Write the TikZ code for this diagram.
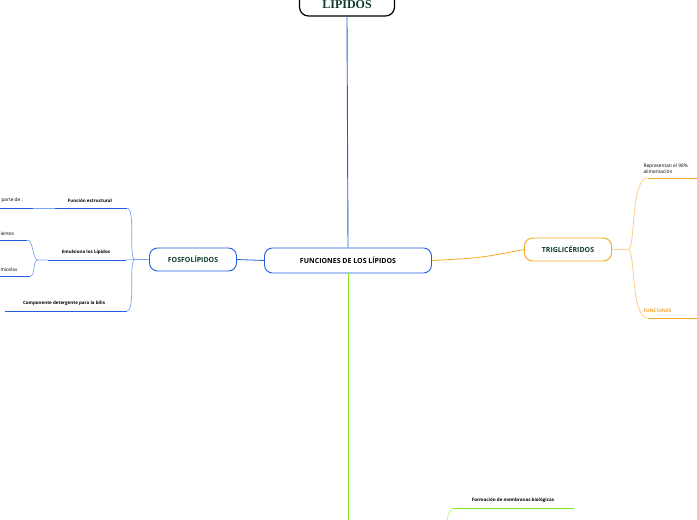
\documentclass[tikz,border=0pt]{standalone}
\usepackage{fontspec}
\setmainfont{Open Sans}
\newfontfamily\serifb{Liberation Serif}
\definecolor{bl}{HTML}{1F5FE0}
\definecolor{lb}{HTML}{7FA3F5}
\definecolor{og}{HTML}{F5A623}
\definecolor{lo}{HTML}{FAD08A}
\definecolor{gr}{HTML}{7FEA1A}
\definecolor{dg}{HTML}{0F3B2A}
\begin{document}
\begin{tikzpicture}[x=1pt,y=-1pt,
  box/.style={draw,rounded corners=8pt,line width=0.9pt,minimum height=23pt,font=\bfseries\fontsize{7}{8}\selectfont},
  lab/.style={font=\bfseries\fontsize{4.5}{5}\selectfont,anchor=south},
  sm/.style={font=\fontsize{4.8}{6}\selectfont,anchor=south west,align=left}]
\useasboundingbox (0,0) rectangle (697,520);
\begin{scope}
\clip (0,0) rectangle (697,520);
\node[box,draw=black,line width=1.2pt,minimum width=95pt,minimum height=26pt,font=\serifb\bfseries\fontsize{12}{12}\selectfont,text=dg,rounded corners=9pt] (lip) at (347,3) {LÍPIDOS};
\node[box,draw=bl,minimum width=167pt,minimum height=25pt] (c) at (348,260.5) {FUNCIONES DE LOS LÍPIDOS};
\node[box,draw=og,minimum width=87pt,text=dg] (t) at (568,249.5) {TRIGLICÉRIDOS};
\node[box,draw=bl,minimum width=87pt,text=dg] (f) at (193,259.5) {FOSFOLÍPIDOS};
\draw[bl,line width=0.9pt] (lip.south) -- (c.north);
\draw[gr,line width=0.9pt] (c.south) -- (348,520);
\draw[og,line width=0.8pt] (c.east) .. controls (480,258) .. (t.west);
\draw[bl,line width=0.8pt] (f.east) -- (c.west);
% triglicéridos
\coordinate (tj) at (628,249.5);
\draw[lo,line width=0.8pt] (t.east) -- (tj) .. controls (636,249) and (630,178) .. (648,178);
\draw[lo,line width=0.8pt] (tj) .. controls (636,250) and (630,318) .. (648,318);
\draw[og,line width=0.8pt] (648,178) -- (697,178);
\draw[og,line width=0.8pt] (648,318) -- (697,318);
\node[sm] (rep) at (640,177) {Representan el 98\%\\alimentación};
\node[anchor=south west,font=\bfseries\fontsize{4.8}{6}\selectfont,text=og] (fun) at (640,316) {FUNCIONES};
% fosfolípidos
\coordinate (fj) at (135,259.5);
\draw[lb,line width=0.7pt] (f.west) -- (fj);
\draw[lb,line width=0.7pt] (fj) .. controls (128,259) and (136,208) .. (127,208);
\draw[lb,line width=0.7pt] (fj) .. controls (128,260) and (136,311) .. (127,311);
\draw[lb,line width=0.7pt] (fj) -- (126,260);
\draw[bl,line width=0.9pt] (55,208) -- (127,208);
\draw[lb,line width=0.9pt] (33,208) -- (55,208);
\draw[bl,line width=0.9pt] (0,208) -- (33,208);
\node[lab] (fe) at (90,206) {Función estructural};
\node[sm,anchor=south west] (pd) at (-2,206) {parte de :};
\draw[bl,line width=0.9pt] (48,260) -- (126,260);
\node[lab] (em) at (86,258) {Emulsiona los Lípidos};
\draw[lb,line width=0.7pt] (48,260) -- (38,260) .. controls (32,260) and (34,240) .. (27,240);
\draw[lb,line width=0.7pt] (38,260) .. controls (32,260) and (36,276) .. (30,276);
\draw[bl,line width=0.9pt] (0,240) -- (27,240);
\draw[bl,line width=0.9pt] (0,276) -- (30,276);
\node[sm] (ie) at (-3,239) {ientes};
\node[sm] (mi) at (-3,275) {micelas};
\draw[bl,line width=0.9pt] (5,311) -- (127,311);
\node[lab] (cd) at (64,309) {Componente detergente para la bilis};
% green
\draw[gr,line width=0.9pt] (453,508) -- (574,508);
\draw[gr!60,line width=0.7pt] (447,520) .. controls (449,512) .. (453,508);
\node[lab] (fm) at (513,506) {Formación de membranas biológicas};
\end{scope}
\end{tikzpicture}
\end{document}
